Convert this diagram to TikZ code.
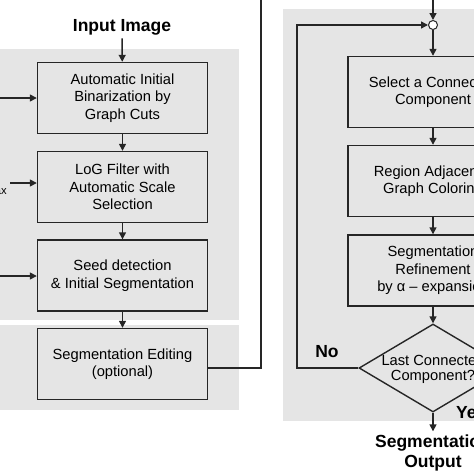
\documentclass[tikz,border=0pt]{standalone}
\usepackage{fontspec}
\setmainfont{Liberation Sans}
\usepackage{tikz}
\usetikzlibrary{shapes.geometric}
\usetikzlibrary{arrows.meta}
\tikzset{mpanel/.style={fill=gray!20,draw=none}}
\tikzset{mbox/.style={draw=black!85,line width=1.4pt,fill=gray!20,minimum width=170pt,minimum height=71pt,inner sep=0pt,align=center,font=\fontsize{14.7}{17.5}\selectfont}}
\tikzset{mdiamond/.style={draw=black!85,line width=1.4pt,fill=gray!20,diamond,minimum width=148pt,minimum height=88pt,inner sep=0pt}}
\tikzset{mtext/.style={align=center,inner sep=0pt,font=\fontsize{14.7}{15.5}\selectfont}}
\tikzset{mtitle/.style={align=center,font=\fontsize{17.5}{20}\selectfont\bfseries}}
\tikzset{mline/.style={draw=black!85,line width=1.4pt}}
\tikzset{marrow/.style={mline,-{Triangle[length=7pt,width=7pt]}}}

\begin{document}
\begin{tikzpicture}[x=1pt,y=-1pt]
\useasboundingbox (0,0) rectangle (474,474);
\clip (0,0) rectangle (474,474);

% panels
\fill[mpanel] (-5,49) rectangle (239,320);
\fill[mpanel] (-5,325) rectangle (239,410);
\fill[mpanel] (283,9) rectangle (530,421);

% left column
\node[mtitle] (input) at (122,27) {Input Image};
\node[mbox] (binar) at (122.5,98) {Automatic Initial\\Binarization by\\Graph Cuts};
\node[mbox] (logf) at (122.5,187) {LoG Filter with\\Automatic Scale\\Selection};
\node[mbox] (seed) at (122.5,275.5) {Seed detection\\\& Initial Segmentation};
\node[mbox] (edit) at (122.5,364) {Segmentation Editing\\(optional)};
\node[anchor=base east,inner sep=0pt,font=\fontsize{16}{18}\selectfont] (smax) at (7.5,192) {$\sigma_{\max}$};

\coordinate (in1) at (-2,98);
\coordinate (in2) at (10,183);
\coordinate (in3) at (-2,276);

\draw[marrow] (input) -- (binar);
\draw[marrow] (binar) -- (logf);
\draw[marrow] (logf) -- (seed);
\draw[marrow] (seed) -- (edit);
\draw[marrow] (in1) -- (in1 -| binar.west);
\draw[marrow] (in2) -- (in2 -| logf.west);
\draw[marrow] (in3) -- (in3 -| seed.west);

% right column
\node[draw=black!85,line width=1pt,fill=white,circle,minimum size=9pt,inner sep=0pt] (join) at (433,25) {};
\node[mbox] (sel) at (433,92) {Select a Connected\\Component};
\node[mbox] (adj) at (433,181) {Region Adjacency\\Graph Coloring};
\node[mbox] (refine) at (433,270.5) {Segmentation\\Refinement\\by α – expansion};
\node[mdiamond] (last) at (433,368) {};
\node[mtext] (lastt) at (433,369) {Last Connected\\Component?};
\node[mtitle] (out) at (433,453) {Segmentation\\Output};
\node[mtitle] (no) at (327,352) {No};
\node[mtitle,anchor=west,inner sep=0pt] (yes) at (456,413) {Yes};

\coordinate (e1) at (261,368);
\coordinate (e2) at (261,-0.3);
\coordinate (e3) at (433,-0.3);
\coordinate (f1) at (297,368);
\coordinate (f2) at (297,25);

\draw[marrow] (edit.east |- e1) -- (e1) -- (e2) -- (e3) -- (join);
\draw[marrow] (join) -- (sel);
\draw[marrow] (sel) -- (adj);
\draw[marrow] (adj) -- (refine);
\draw[marrow] (refine) -- (last);
\draw[marrow] (last.west) -- (f1) -- (f2) -- (join);
\draw[marrow] (last.south) -- (out);

\end{tikzpicture}
\end{document}
